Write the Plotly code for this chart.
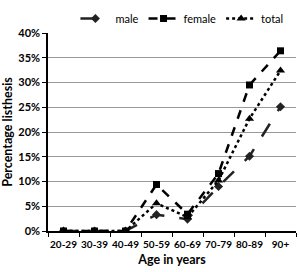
import plotly.graph_objects as go

ages = ["20-29", "30-39", "40-49", "50-59", "60-69", "70-79", "80-89", "90+"]
male = [0, 0, 0, 3.3, 2.4, 9.0, 15.1, 25.1]
female = [0, 0, 0, 9.4, 3.4, 11.6, 29.5, 36.4]
total = [0, 0, 0, 5.6, 2.8, 10.2, 22.7, 32.4]
yticks = [0, 5, 10, 15, 20, 25, 30, 35, 40]

fig = go.Figure()
fig.add_trace(go.Scatter(x=ages, y=male, name="male", mode="lines+markers",
                         line=dict(color="#222222", width=2.5, dash="longdash"),
                         marker=dict(symbol="diamond", size=7, color="#222222")))
fig.add_trace(go.Scatter(x=ages, y=female, name="female", mode="lines+markers",
                         line=dict(color="black", width=2.5, dash="dash"),
                         marker=dict(symbol="square", size=7, color="black")))
fig.add_trace(go.Scatter(x=ages, y=total, name="total", mode="lines+markers",
                         line=dict(color="black", width=2.5, dash="dot"),
                         marker=dict(symbol="triangle-up", size=8, color="black")))

font = "Lato, Open Sans, sans-serif"
fig.update_layout(
    width=300, height=272,
    margin=dict(l=48, r=4, t=22, b=41),
    plot_bgcolor="white", paper_bgcolor="white",
    font=dict(family=font, size=11, color="black"),
    showlegend=True,
    legend=dict(orientation="h", x=0.54, xanchor="center", y=1.0, yanchor="bottom",
                font=dict(size=11), tracegroupgap=0,
                bgcolor="rgba(0,0,0,0)"),
    xaxis=dict(type="category", showline=True, linecolor="black", linewidth=1.5,
               ticks="outside", ticklen=4, tickcolor="black", tickson="boundaries",
               tickangle=0, tickvals=ages, ticktext=[f"<b>{a}</b>" for a in ages],
               tickfont=dict(size=10, family=font),
               ticklabelstandoff=3,
               title=dict(text="<b>Age in years</b>", font=dict(size=12.5), standoff=6),
               showgrid=False, range=[-0.5, 7.5]),
    yaxis=dict(range=[0, 40], tickvals=yticks, ticktext=[f"<b>{v}%</b>" for v in yticks],
               showline=True, linecolor="black", linewidth=1.5,
               ticks="outside", ticklen=4, tickcolor="black",
               tickfont=dict(size=11, family=font),
               gridcolor="#999999", gridwidth=1, zeroline=False,
               title=dict(text="<b>Percentage listhesis</b>", font=dict(size=12.5), standoff=4)),
)
fig.write_html("out.html")
